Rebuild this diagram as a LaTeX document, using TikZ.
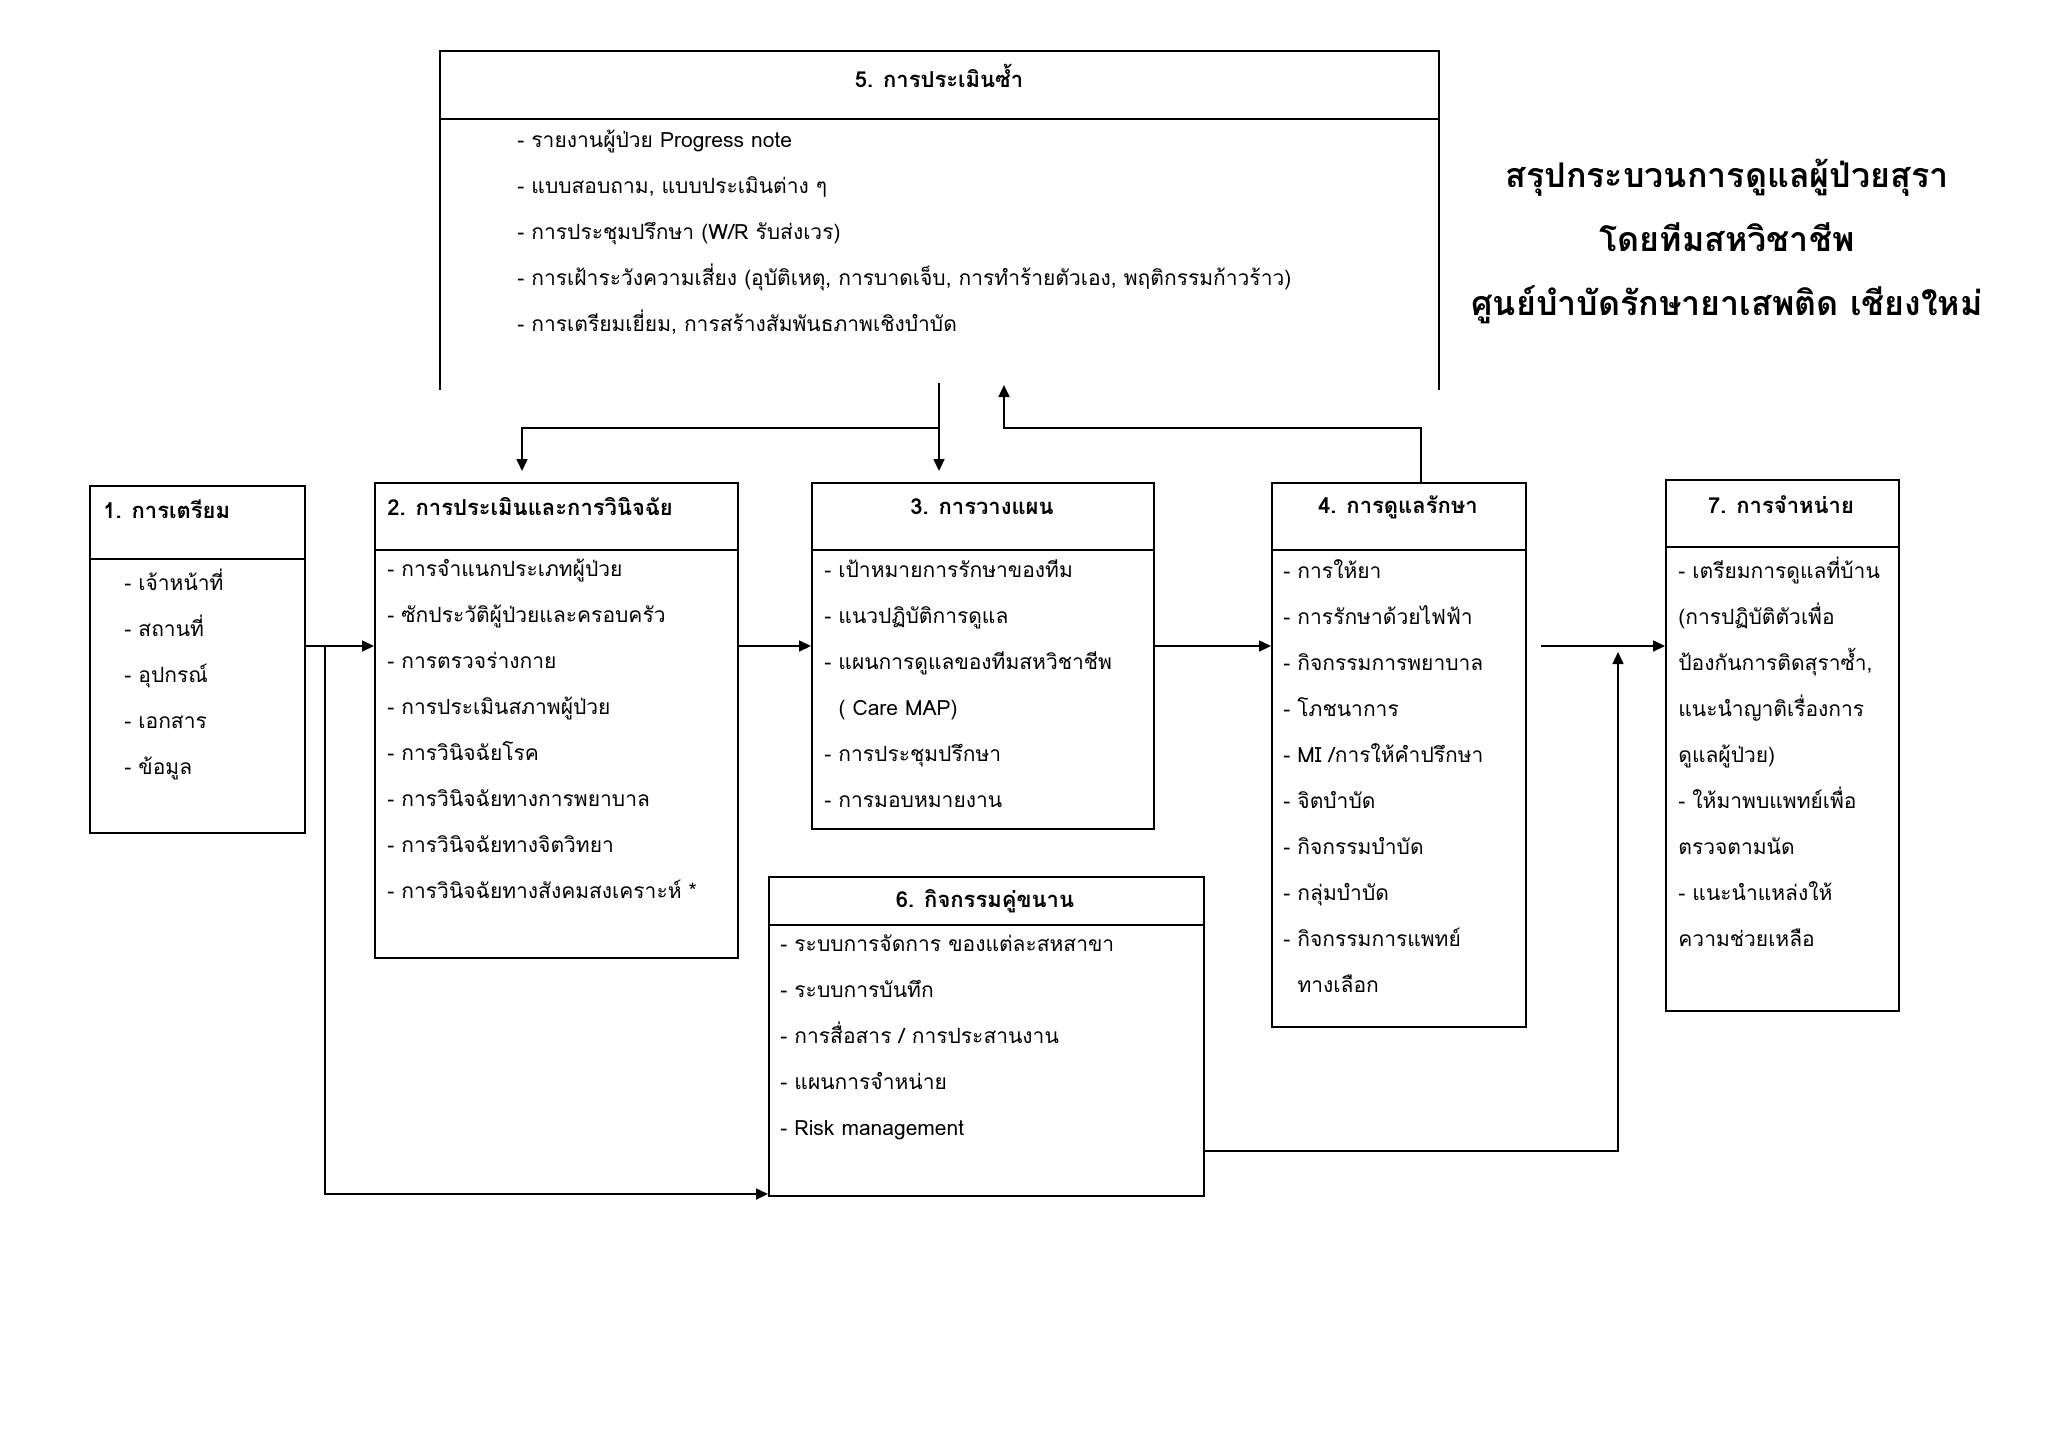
\documentclass[tikz,border=0pt]{standalone}
\usepackage{fontspec}
\setmainfont[Script=Thai]{Loma}
\usetikzlibrary{arrows.meta}
\newcommand\bodyf{\fontsize{10.5}{23}\selectfont}
\newcommand\headf{\fontsize{11}{13}\selectfont\bfseries}
\begin{document}
\begin{tikzpicture}[x=0.5pt,y=-0.5pt,
  box/.style 2 args={draw,line width=0.8pt,anchor=north west,inner sep=0,minimum width=#1*0.5pt,minimum height=#2*0.5pt},
  body/.style={anchor=north west,inner sep=0,align=left,font=\bodyf},
  head/.style={inner sep=0,font=\headf},
  ln/.style={line width=0.8pt},
  arr/.style={line width=0.8pt,-{Triangle[length=6pt,width=5.5pt]}}]
\useasboundingbox (0,0) rectangle (2048,1448);
% title
\node[font=\fontsize{17}{32}\selectfont\bfseries,align=center] (title) at (1727,241)
 {สรุปกระบวนการดูแลผู้ป่วยสุรา\\โดยทีมสหวิชาชีพ\\ศูนย์บำบัดรักษายาเสพติด เชียงใหม่};
% box 5 (open bottom)
\node[anchor=north west,minimum width=998*0.5pt,minimum height=338*0.5pt,inner sep=0] (b5) at (440,51) {};
\draw[ln] (b5.south west) -- (b5.north west) -- (b5.north east) -- (b5.south east);
\draw[ln] (440,119) -- (1438,119);
\node[head] (h5) at (939,76) {5. การประเมินซ้ำ};
\node[body] (t5) at (517,130) {- รายงานผู้ป่วย Progress note\\- แบบสอบถาม, แบบประเมินต่าง ๆ\\- การประชุมปรึกษา (W/R รับส่งเวร)\\- การเฝ้าระวังความเสี่ยง (อุบัติเหตุ, การบาดเจ็บ, การทำร้ายตัวเอง, พฤติกรรมก้าวร้าว)\\- การเตรียมเยี่ยม, การสร้างสัมพันธภาพเชิงบำบัด};
% box 1
\node[box={215}{347}] (b1) at (89,485) {};
\draw[ln] (89,559) -- (304,559);
\node[head,anchor=west] (h1) at (103,509) {1. การเตรียม};
\node[body] (t1) at (124,568) {- เจ้าหน้าที่\\- สถานที่\\- อุปกรณ์\\- เอกสาร\\- ข้อมูล};
% box 2
\node[box={363}{475}] (b2) at (374,482) {};
\draw[ln] (374,550) -- (737,550);
\node[head,anchor=west] (h2) at (387,507) {2. การประเมินและการวินิจฉัย};
\node[body] (t2) at (387,559) {- การจำแนกประเภทผู้ป่วย\\- ซักประวัติผู้ป่วยและครอบครัว\\- การตรวจร่างกาย\\- การประเมินสภาพผู้ป่วย\\- การวินิจฉัยโรค\\- การวินิจฉัยทางการพยาบาล\\- การวินิจฉัยทางจิตวิทยา\\- การวินิจฉัยทางสังคมสงเคราะห์ *};
% box 3
\node[box={342}{346}] (b3) at (811,482) {};
\draw[ln] (811,550) -- (1153,550);
\node[head] (h3) at (982,507) {3. การวางแผน};
\node[body] (t3) at (824,559) {- เป้าหมายการรักษาของทีม\\- แนวปฏิบัติการดูแล\\- แผนการดูแลของทีมสหวิชาชีพ\\\ \ ( Care MAP)\\- การประชุมปรึกษา\\- การมอบหมายงาน};
% box 4
\node[box={254}{544}] (b4) at (1271,482) {};
\draw[ln] (1271,550) -- (1525,550);
\node[head] (h4) at (1398,507) {4. การดูแลรักษา};
\node[body] (t4) at (1283,559) {- การให้ยา\\- การรักษาด้วยไฟฟ้า\\- กิจกรรมการพยาบาล\\- โภชนาการ\\- MI /การให้คำปรึกษา\\- จิตบำบัด\\- กิจกรรมบำบัด\\- กลุ่มบำบัด\\- กิจกรรมการแพทย์\\\ \ ทางเลือก};
% box 7
\node[box={233}{531}] (b7) at (1665,479) {};
\draw[ln] (1665,547) -- (1898,547);
\node[head] (h7) at (1781,505) {7. การจำหน่าย};
\node[body] (t7) at (1678,556) {- เตรียมการดูแลที่บ้าน\\(การปฏิบัติตัวเพื่อ\\ป้องกันการติดสุราซ้ำ,\\แนะนำญาติเรื่องการ\\ดูแลผู้ป่วย)\\- ให้มาพบแพทย์เพื่อ\\ตรวจตามนัด\\- แนะนำแหล่งให้\\ความช่วยเหลือ};
% box 6
\node[box={435}{319}] (b6) at (768,876) {};
\draw[ln] (768,925) -- (1203,925);
\node[head] (h6) at (985,901) {6. กิจกรรมคู่ขนาน};
\node[body] (t6) at (780,934) {- ระบบการจัดการ ของแต่ละสหสาขา\\- ระบบการบันทึก\\- การสื่อสาร / การประสานงาน\\- แผนการจำหน่าย\\- Risk management};
% connectors
\coordinate (s5) at (939,383);
\coordinate (j5) at (939,428);
\coordinate (e5) at (1004,385);
\draw[arr] (b1.east |- 0,646) -- (b2.west |- 0,646);
\draw[arr] (325,646) -- (325,1194) -- (b6.west |- 0,1194);
\draw[arr] (b2.east |- 0,646) -- (b3.west |- 0,646);
\draw[arr] (b3.east |- 0,646) -- (b4.west |- 0,646);
\draw[arr] (1541,646) -- (b7.west |- 0,646);
\draw[arr] (b6.east |- 0,1151) -- (1618,1151) -- (1618,652);
\draw[arr] (s5) -- (939,471);
\draw[arr] (j5) -- (522,428) -- (522,471);
\draw[arr] (b4.north -| 1421,0) -- (1421,428) -- (1004,428) -- (e5);
\end{tikzpicture}
\end{document}
